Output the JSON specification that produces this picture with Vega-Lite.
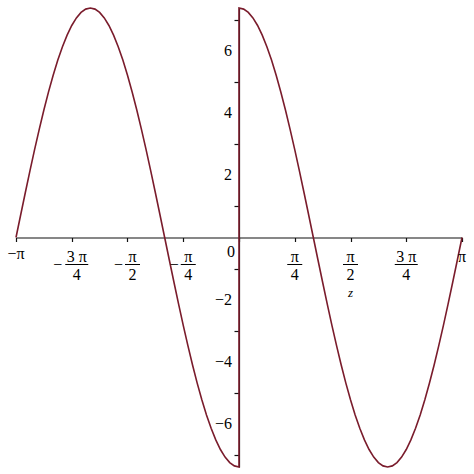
{
  "$schema": "https://vega.github.io/schema/vega-lite/v6.json",
  "width": 446,
  "height": 459,
  "autosize": {"type": "none"},
  "padding": {"left": 16, "top": 8, "right": 12, "bottom": 7},
  "background": "white",
  "config": {"view": {"stroke": null}, "text": {"font": "Liberation Serif", "fontSize": 16, "color": "#000"}},
  "datasets": {
    "curve": [
      {"z": -3.1416, "f": 0}, {"z": -3.0761, "f": 0.725}, {"z": -3.0107, "f": 1.444}, {"z": -2.9452, "f": 2.148},
      {"z": -2.8798, "f": 2.832}, {"z": -2.8143, "f": 3.488}, {"z": -2.7489, "f": 4.111}, {"z": -2.6834, "f": 4.694},
      {"z": -2.6180, "f": 5.233}, {"z": -2.5525, "f": 5.720}, {"z": -2.4871, "f": 6.153}, {"z": -2.4216, "f": 6.526},
      {"z": -2.3562, "f": 6.837}, {"z": -2.2907, "f": 7.081}, {"z": -2.2253, "f": 7.258}, {"z": -2.1598, "f": 7.364},
      {"z": -2.0944, "f": 7.4}, {"z": -2.0289, "f": 7.364}, {"z": -1.9635, "f": 7.258}, {"z": -1.8980, "f": 7.081},
      {"z": -1.8326, "f": 6.837}, {"z": -1.7671, "f": 6.526}, {"z": -1.7017, "f": 6.153}, {"z": -1.6362, "f": 5.720},
      {"z": -1.5708, "f": 5.233}, {"z": -1.5053, "f": 4.694}, {"z": -1.4399, "f": 4.111}, {"z": -1.3744, "f": 3.488},
      {"z": -1.3090, "f": 2.832}, {"z": -1.2435, "f": 2.148}, {"z": -1.1781, "f": 1.444}, {"z": -1.1127, "f": 0.725},
      {"z": -1.0472, "f": 0}, {"z": -0.9817, "f": -0.725}, {"z": -0.9163, "f": -1.444}, {"z": -0.8508, "f": -2.148},
      {"z": -0.7854, "f": -2.832}, {"z": -0.7199, "f": -3.488}, {"z": -0.6545, "f": -4.111}, {"z": -0.5890, "f": -4.694},
      {"z": -0.5236, "f": -5.233}, {"z": -0.4581, "f": -5.720}, {"z": -0.3927, "f": -6.153}, {"z": -0.3272, "f": -6.526},
      {"z": -0.2618, "f": -6.837}, {"z": -0.1963, "f": -7.081}, {"z": -0.1309, "f": -7.258}, {"z": -0.0654, "f": -7.364},
      {"z": 0, "f": -7.4},
      {"z": 0, "f": 7.4},
      {"z": 0.0654, "f": 7.364}, {"z": 0.1309, "f": 7.258}, {"z": 0.1963, "f": 7.081}, {"z": 0.2618, "f": 6.837},
      {"z": 0.3272, "f": 6.526}, {"z": 0.3927, "f": 6.153}, {"z": 0.4581, "f": 5.720}, {"z": 0.5236, "f": 5.233},
      {"z": 0.5890, "f": 4.694}, {"z": 0.6545, "f": 4.111}, {"z": 0.7199, "f": 3.488}, {"z": 0.7854, "f": 2.832},
      {"z": 0.8508, "f": 2.148}, {"z": 0.9163, "f": 1.444}, {"z": 0.9817, "f": 0.725}, {"z": 1.0472, "f": 0},
      {"z": 1.1127, "f": -0.725}, {"z": 1.1781, "f": -1.444}, {"z": 1.2435, "f": -2.148}, {"z": 1.3090, "f": -2.832},
      {"z": 1.3744, "f": -3.488}, {"z": 1.4399, "f": -4.111}, {"z": 1.5053, "f": -4.694}, {"z": 1.5708, "f": -5.233},
      {"z": 1.6362, "f": -5.720}, {"z": 1.7017, "f": -6.153}, {"z": 1.7671, "f": -6.526}, {"z": 1.8326, "f": -6.837},
      {"z": 1.8980, "f": -7.081}, {"z": 1.9635, "f": -7.258}, {"z": 2.0289, "f": -7.364}, {"z": 2.0944, "f": -7.4},
      {"z": 2.1598, "f": -7.364}, {"z": 2.2253, "f": -7.258}, {"z": 2.2907, "f": -7.081}, {"z": 2.3562, "f": -6.837},
      {"z": 2.4216, "f": -6.526}, {"z": 2.4871, "f": -6.153}, {"z": 2.5525, "f": -5.720}, {"z": 2.6180, "f": -5.233},
      {"z": 2.6834, "f": -4.694}, {"z": 2.7489, "f": -4.111}, {"z": 2.8143, "f": -3.488}, {"z": 2.8798, "f": -2.832},
      {"z": 2.9452, "f": -2.148}, {"z": 3.0107, "f": -1.444}, {"z": 3.0761, "f": -0.725}, {"z": 3.1416, "f": 0}
    ],
    "fracPos": [
      {"v": 0.7854, "num": "π", "den": "4"},
      {"v": 1.5708, "num": "π", "den": "2"},
      {"v": 2.3562, "num": "3 π", "den": "4"}
    ],
    "fracNeg": [
      {"v": -2.3562, "num": "3 π", "den": "4"},
      {"v": -1.5708, "num": "π", "den": "2"},
      {"v": -0.7854, "num": "π", "den": "4"}
    ],
    "ylab": [
      {"v": 6, "t": "6"}, {"v": 4, "t": "4"}, {"v": 2, "t": "2"},
      {"v": -2, "t": "−2"}, {"v": -4, "t": "−4"}, {"v": -6, "t": "−6"}
    ],
    "singles": [
      {"v": -3.1416, "t": "−π", "k": "left"},
      {"v": 3.1416, "t": "π", "k": "right"},
      {"v": 0, "t": "0", "k": "zero"},
      {"v": 1.5708, "t": "z", "k": "title"}
    ]
  },
  "layer": [
    {
      "data": {"name": "curve"},
      "mark": {"type": "line", "color": "#7a1c2c", "strokeWidth": 1.6, "clip": false},
      "encoding": {
        "x": {
          "field": "z", "type": "quantitative",
          "scale": {"domain": [-3.14159, 3.14159], "nice": false, "zero": false},
          "axis": {
            "orient": "bottom", "offset": -229.5, "title": null, "labels": false, "grid": false,
            "values": [-3.14159, -2.94524, -2.74889, -2.55254, -2.35619, -2.15984, -1.9635, -1.76715, -1.5708, -1.37445, -1.1781, -0.98175, -0.7854, -0.58905, -0.3927, -0.19635, 0, 0.19635, 0.3927, 0.58905, 0.7854, 0.98175, 1.1781, 1.37445, 1.5708, 1.76715, 1.9635, 2.15984, 2.35619, 2.55254, 2.74889, 2.94524, 3.14159],
            "tickSize": 4, "tickColor": "#111", "domainColor": "#111", "tickWidth": 1.2, "domainWidth": 1.2
          }
        },
        "y": {
          "field": "f", "type": "quantitative",
          "scale": {"domain": [-7.4, 7.4], "nice": false, "zero": false},
          "axis": {
            "orient": "left", "offset": -223, "title": null, "grid": false, "labels": false,
            "values": [-7, -6, -5, -4, -3, -2, -1, 0, 1, 2, 3, 4, 5, 6, 7],
            "tickSize": 5, "tickColor": "#111", "domainColor": "#111", "tickWidth": 1.2, "domainWidth": 1.2
          }
        },
        "order": {"value": null}
      }
    },
    {
      "data": {"name": "ylab"},
      "mark": {"type": "text", "align": "right", "dx": -7},
      "encoding": {"x": {"datum": 0}, "y": {"field": "v", "type": "quantitative"}, "text": {"field": "t"}}
    },
    {
      "data": {"name": "fracPos"},
      "mark": {"type": "text", "dy": 19},
      "encoding": {"x": {"field": "v", "type": "quantitative"}, "y": {"datum": 0}, "text": {"field": "num"}}
    },
    {
      "data": {"name": "fracPos"},
      "mark": {"type": "text", "dy": 37},
      "encoding": {"x": {"field": "v", "type": "quantitative"}, "y": {"datum": 0}, "text": {"field": "den"}}
    },
    {
      "data": {"name": "fracPos"},
      "mark": {"type": "tick", "orient": "horizontal", "thickness": 1, "color": "#000", "opacity": 1},
      "encoding": {
        "x": {"field": "v", "type": "quantitative"}, "y": {"datum": 0},
        "yOffset": {"value": 27},
        "size": {"condition": {"test": "datum.num == '3 π'", "value": 23}, "value": 15}
      }
    },
    {
      "data": {"name": "fracNeg"},
      "mark": {"type": "text", "dy": 19, "dx": 5},
      "encoding": {"x": {"field": "v", "type": "quantitative"}, "y": {"datum": 0}, "text": {"field": "num"}}
    },
    {
      "data": {"name": "fracNeg"},
      "mark": {"type": "text", "dy": 37, "dx": 5},
      "encoding": {"x": {"field": "v", "type": "quantitative"}, "y": {"datum": 0}, "text": {"field": "den"}}
    },
    {
      "data": {"name": "fracNeg"},
      "mark": {"type": "tick", "orient": "horizontal", "thickness": 1, "color": "#000", "opacity": 1},
      "encoding": {
        "x": {"field": "v", "type": "quantitative"}, "y": {"datum": 0},
        "xOffset": {"value": 5},
        "yOffset": {"value": 27},
        "size": {"condition": {"test": "datum.num == '3 π'", "value": 23}, "value": 15}
      }
    },
    {
      "data": {"name": "fracNeg"},
      "transform": [{"filter": "datum.num == 'π'"}],
      "mark": {"type": "text", "dy": 27, "dx": -9},
      "encoding": {"x": {"field": "v", "type": "quantitative"}, "y": {"datum": 0}, "text": {"value": "−"}}
    },
    {
      "data": {"name": "fracNeg"},
      "transform": [{"filter": "datum.num != 'π'"}],
      "mark": {"type": "text", "dy": 27, "dx": -14},
      "encoding": {"x": {"field": "v", "type": "quantitative"}, "y": {"datum": 0}, "text": {"value": "−"}}
    },
    {
      "data": {"name": "singles"},
      "transform": [{"filter": "datum.k == 'left'"}],
      "mark": {"type": "text", "dy": 16},
      "encoding": {"x": {"field": "v", "type": "quantitative"}, "y": {"datum": 0}, "text": {"field": "t"}}
    },
    {
      "data": {"name": "singles"},
      "transform": [{"filter": "datum.k == 'right'"}],
      "mark": {"type": "text", "dy": 19},
      "encoding": {"x": {"field": "v", "type": "quantitative"}, "y": {"datum": 0}, "text": {"field": "t"}}
    },
    {
      "data": {"name": "singles"},
      "transform": [{"filter": "datum.k == 'zero'"}],
      "mark": {"type": "text", "dy": 14, "dx": -8},
      "encoding": {"x": {"field": "v", "type": "quantitative"}, "y": {"datum": 0}, "text": {"field": "t"}}
    },
    {
      "data": {"name": "singles"},
      "transform": [{"filter": "datum.k == 'title'"}],
      "mark": {"type": "text", "fontSize": 13, "fontStyle": "italic", "dy": 55},
      "encoding": {"x": {"field": "v", "type": "quantitative"}, "y": {"datum": 0}, "text": {"field": "t"}}
    }
  ]
}
